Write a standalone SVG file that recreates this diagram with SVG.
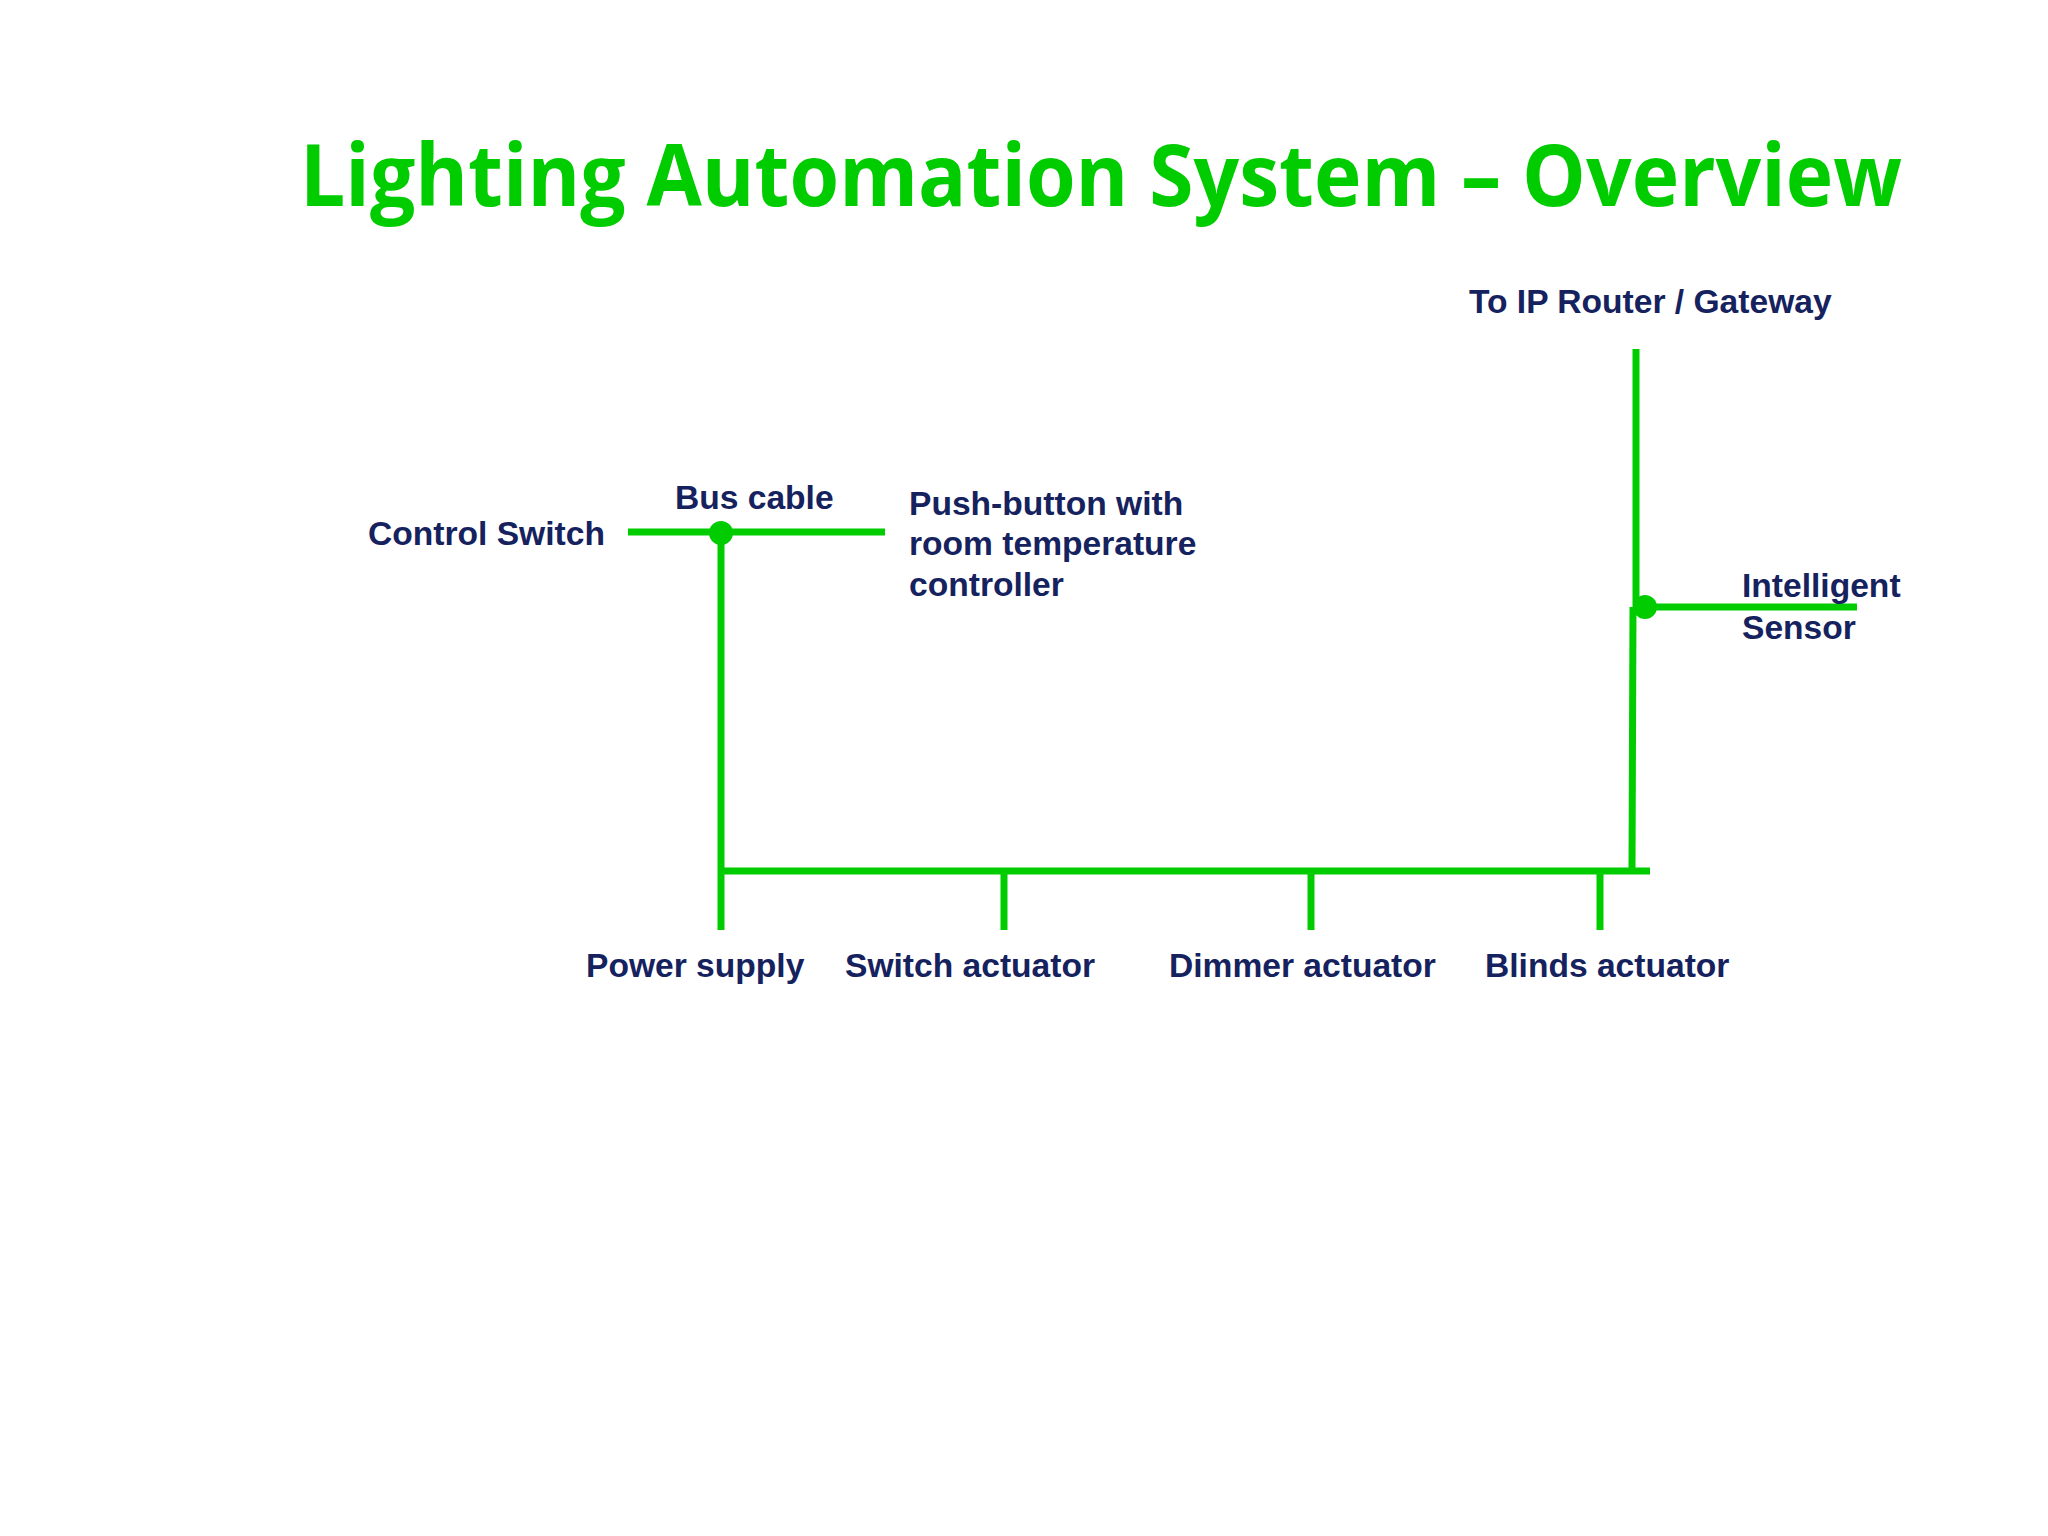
<svg xmlns="http://www.w3.org/2000/svg" width="2048" height="1536" viewBox="0 0 2048 1536">
<style>
.t{font-family:"Liberation Sans",Arial,sans-serif;font-weight:bold;font-size:33.6px;fill:#15225e}
.w{stroke:#00cc00;stroke-width:7;fill:none}
.d{fill:#00cc00}
</style>
<rect width="2048" height="1536" fill="#ffffff"/>
<text x="300" y="206" font-family="'Open Sans','Noto Sans',sans-serif" font-weight="bold" font-size="86" fill="#00cc00" textLength="1602" lengthAdjust="spacingAndGlyphs">Lighting Automation System – Overview</text>
<g id="connectors">
<line class="w" x1="628" y1="532" x2="885" y2="532"/>
<line class="w" x1="721" y1="532" x2="721" y2="930"/>
<line class="w" x1="721" y1="871" x2="1650" y2="871"/>
<line class="w" x1="1004" y1="871" x2="1004" y2="930"/>
<line class="w" x1="1311" y1="871" x2="1311" y2="930"/>
<line class="w" x1="1600" y1="871" x2="1600" y2="930"/>
<line class="w" x1="1636" y1="349" x2="1636" y2="607"/>
<line class="w" x1="1633" y1="607" x2="1632" y2="868"/>
<line class="w" x1="1644" y1="607" x2="1857" y2="607"/>
<circle class="d" cx="721" cy="533" r="12"/>
<circle class="d" cx="1645" cy="607" r="12"/>
</g>
<g id="router"><text class="t" x="1469" y="313">To IP Router / Gateway</text></g>
<g id="buscable"><text class="t" x="675" y="509">Bus cable</text></g>
<g id="control"><text class="t" x="368" y="545">Control Switch</text></g>
<g id="pushbutton"><text class="t" x="909" y="515">Push-button with</text><text class="t" x="909" y="555">room temperature</text><text class="t" x="909" y="596">controller</text></g>
<g id="sensor"><text class="t" x="1742" y="597">Intelligent</text><text class="t" x="1742" y="639">Sensor</text></g>
<g id="power"><text class="t" x="586" y="977">Power supply</text></g>
<g id="switch"><text class="t" x="845" y="977">Switch actuator</text></g>
<g id="dimmer"><text class="t" x="1169" y="977">Dimmer actuator</text></g>
<g id="blinds"><text class="t" x="1485" y="977">Blinds actuator</text></g>
</svg>
